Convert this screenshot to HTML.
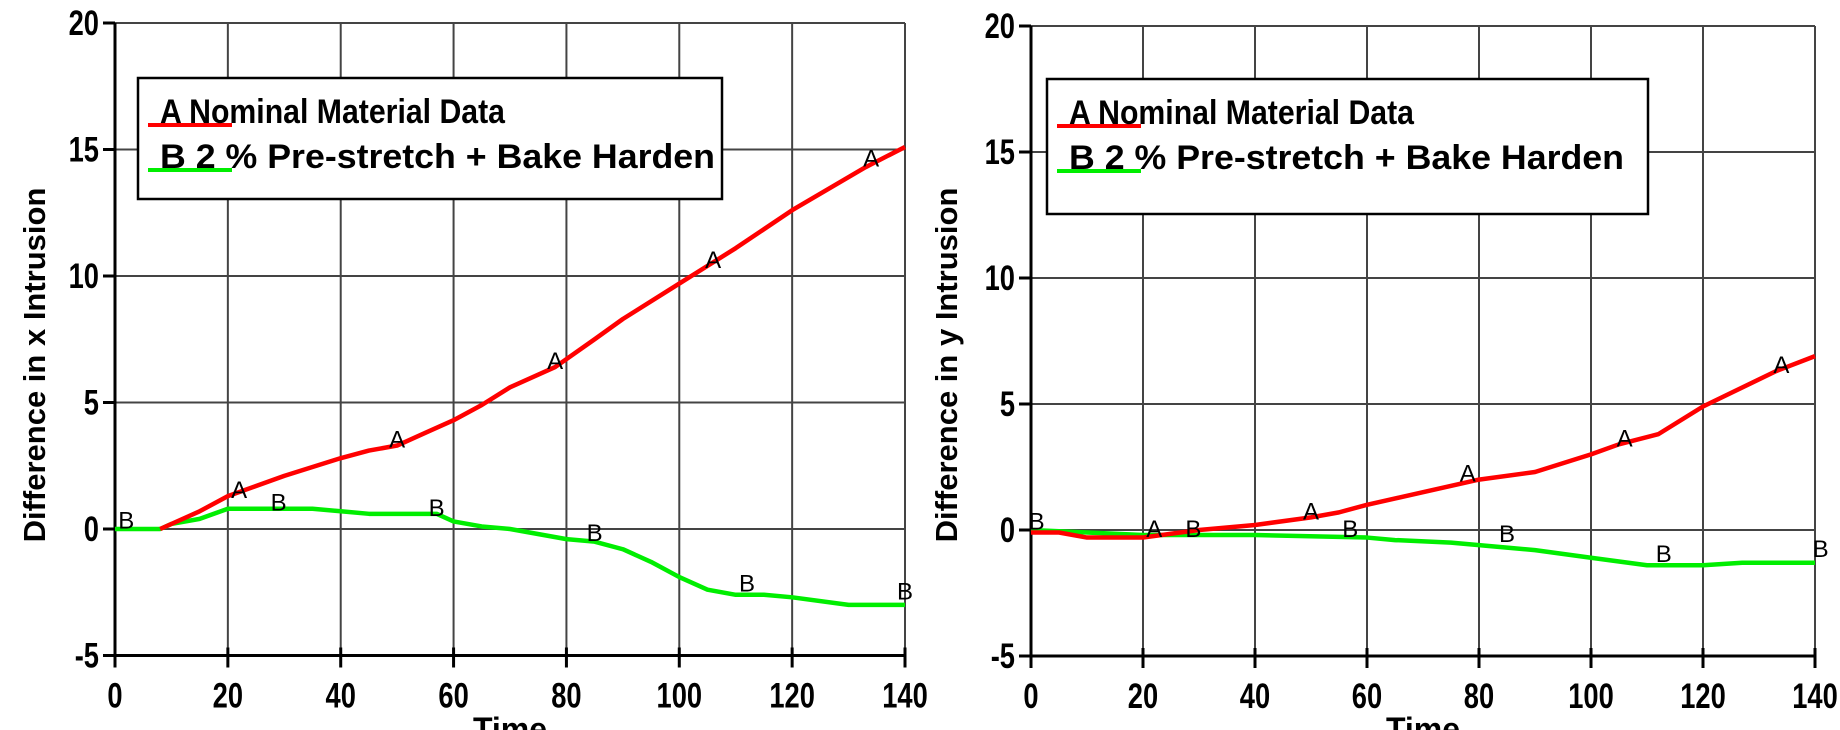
<!DOCTYPE html>
<html><head><meta charset="utf-8"><style>
html,body{margin:0;padding:0;background:#fff;}
svg{display:block;}
text{font-family:"Liberation Sans",sans-serif;}
</style></head><body>
<svg id="s" width="1840" height="730" viewBox="0 0 1840 730"></svg>
<script>
const xTicks=[0,20,40,60,80,100,120,140];
const yTicks=[-5,0,5,10,15,20];
const leftATime=[8,15,20,25,30,40,45,50,55,60,65,70,78,85,90,100,105,110,120,133,140];
const leftAVal=[0,0.7,1.3,1.7,2.1,2.8,3.1,3.3,3.8,4.3,4.9,5.6,6.4,7.5,8.3,9.7,10.4,11.1,12.6,14.3,15.1];
const leftBTime=[0,8,10,15,20,30,35,40,45,57,60,65,70,80,85,90,95,100,105,110,115,120,130,140];
const leftBVal=[0,0,0.2,0.4,0.8,0.8,0.8,0.7,0.6,0.6,0.3,0.1,0,-0.4,-0.5,-0.8,-1.3,-1.9,-2.4,-2.6,-2.6,-2.7,-3.0,-3.0];
const rightATime=[0,5,10,20,30,40,50,55,60,70,80,90,100,105,112,120,133,140];
const rightAVal=[-0.1,-0.1,-0.3,-0.3,0,0.2,0.5,0.7,1.0,1.5,2.0,2.3,3.0,3.4,3.8,4.9,6.3,6.9];
const rightBTime=[0,10,20,40,60,65,75,85,90,100,110,120,127,140];
const rightBVal=[0,-0.1,-0.2,-0.2,-0.3,-0.4,-0.5,-0.7,-0.8,-1.1,-1.4,-1.4,-1.3,-1.3];
const leftAMarkT=[22,50,78,106,134], leftAMarkV=[1.5,3.5,6.6,10.6,14.6];
const leftBMarkT=[2,29,57,85,112,140], leftBMarkV=[0.3,1.0,0.8,-0.2,-2.2,-2.5];
const rightAMarkT=[22,50,78,106,134], rightAMarkV=[0,0.7,2.2,3.6,6.5];
const rightBMarkT=[1,29,57,85,113,141], rightBMarkV=[0.3,0,0,-0.2,-1.0,-0.8];

const NS="http://www.w3.org/2000/svg";
const svg=document.getElementById('s');
function mk(tag,attrs,parent,txt){const e=document.createElementNS(NS,tag);for(const k in attrs)e.setAttribute(k,attrs[k]);if(txt!==undefined)e.textContent=txt;(parent||svg).appendChild(e);return e;}

function chart(cfg){
  const g=mk('g',{});
  
  
  const X=v=>cfg.x0+(v-0)*(cfg.x1-cfg.x0)/140;
  const Y=v=>cfg.y0-v*cfg.unit;
  xTicks.forEach(t=>{if(t===0)return;const l=mk('line',{x1:X(t),x2:X(t),y1:Y(20),y2:Y(-5),stroke:'#444','stroke-width':2},g);
    });
  yTicks.forEach(t=>{if(t===-5)return;const l=mk('line',{x1:X(0),x2:X(140),y1:Y(t),y2:Y(t),stroke:'#444','stroke-width':2},g);
    });
  const ax=mk('line',{x1:X(0),x2:X(0),y1:Y(20),y2:Y(-5)+6,stroke:'#000','stroke-width':3},g);
  
  const bx=mk('line',{x1:X(0)-10,x2:X(140),y1:Y(-5),y2:Y(-5),stroke:'#000','stroke-width':3},g);
  
  xTicks.forEach(t=>{mk('line',{x1:X(t),x2:X(t),y1:Y(-5)-8,y2:Y(-5)+12,stroke:'#000','stroke-width':3},g);
    const tx=mk('text',{x:X(t),y:Y(-5)+52,'text-anchor':'middle','font-size':35,'font-weight':'bold',transform:`translate(${X(t)},0) scale(0.78,1) translate(${-X(t)},0)`},g,String(t));
    });
  yTicks.forEach(t=>{mk('line',{x1:X(0)-12,x2:X(0),y1:Y(t),y2:Y(t),stroke:'#000','stroke-width':3},g);
    const tx=mk('text',{x:X(0)-16,y:Y(t)+12,'text-anchor':'end','font-size':35,'font-weight':'bold',transform:`translate(${X(0)-16},0) scale(0.78,1) translate(${-(X(0)-16)},0)`},g,String(t));
    });
  const xt=mk('text',{x:(X(0)+X(140))/2,y:740,'text-anchor':'middle','font-size':32,'font-weight':'bold'},g,'Time');
  
  const yt=mk('text',{x:0,y:0,'text-anchor':'middle','font-size':31,'font-weight':'bold',transform:`translate(${cfg.yTitleX},${cfg.yTitleY}) rotate(-90)`},g,cfg.yTitle);
  
  function series(ts,vs,color,nm){const p=mk('polyline',{points:ts.map((t,i)=>X(t)+','+Y(vs[i])).join(' '),fill:'none',stroke:color,'stroke-width':4.5,'stroke-linejoin':'round'},g);
    }
  series(cfg.bT,cfg.bV,'#00ee00','series-b-line');
  series(cfg.aT,cfg.aV,'#ff0000','series-a-line');
  function marks(ts,vs,lab,nm){ts.forEach((t,i)=>{const m=mk('text',{x:X(t),y:Y(vs[i])+7,'text-anchor':'middle','font-size':24,fill:'#000'},g,lab);
    });}
  marks(cfg.amT,cfg.amV,'A','series-a-marker');
  marks(cfg.bmT,cfg.bmV,'B','series-b-marker');
  const L=cfg.leg;
  const lg=mk('g',{},g);
  mk('rect',{x:L.x,y:L.y,width:L.w,height:L.h,fill:'#fff',stroke:'#000','stroke-width':2.5},lg);
  mk('line',{x1:L.x+10,x2:L.x+94,y1:L.y+47,y2:L.y+47,stroke:'#ff0000','stroke-width':4},lg);
  mk('line',{x1:L.x+10,x2:L.x+94,y1:L.y+92,y2:L.y+92,stroke:'#00ee00','stroke-width':4},lg);
  const t1=mk('text',{x:L.x+22,y:L.y+45,'font-size':34,'font-weight':'bold',textLength:L.t1,lengthAdjust:'spacingAndGlyphs'},lg,'A  Nominal Material Data');
  
  const t2=mk('text',{x:L.x+22,y:L.y+90,'font-size':34,'font-weight':'bold',textLength:L.t2,lengthAdjust:'spacingAndGlyphs'},lg,'B  2 % Pre-stretch + Bake Harden');
  
}
chart({name:'left-chart',x0:115,x1:905,y0:529,unit:25.3,yTitle:'Difference in x Intrusion',yTitleX:45,yTitleY:365,
  aT:leftATime,aV:leftAVal,bT:leftBTime,bV:leftBVal,amT:leftAMarkT,amV:leftAMarkV,bmT:leftBMarkT,bmV:leftBMarkV,
  leg:{x:138,y:78,w:584,h:121,t1:345,t2:555}});
chart({name:'right-chart',x0:1031,x1:1815,y0:530,unit:25.2,yTitle:'Difference in y Intrusion',yTitleX:957,yTitleY:365,
  aT:rightATime,aV:rightAVal,bT:rightBTime,bV:rightBVal,amT:rightAMarkT,amV:rightAMarkV,bmT:rightBMarkT,bmV:rightBMarkV,
  leg:{x:1047,y:79,w:601,h:135,t1:345,t2:555}});
</script>
</body></html>
